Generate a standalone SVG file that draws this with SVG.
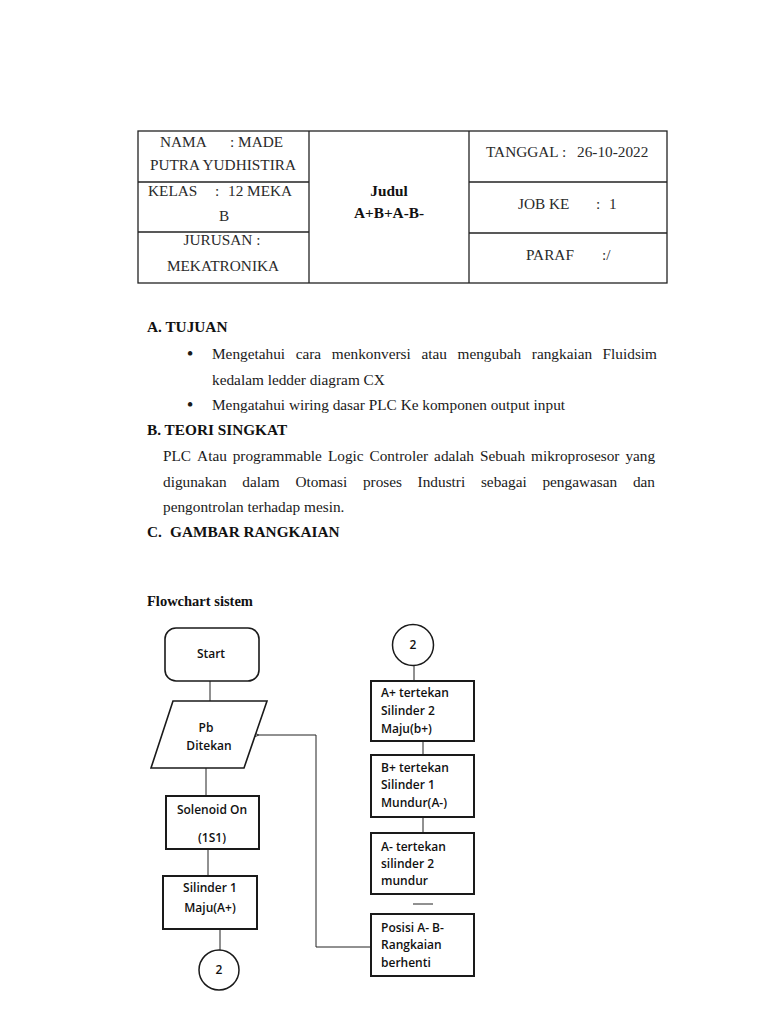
<svg xmlns="http://www.w3.org/2000/svg" width="768" height="1024" viewBox="0 0 768 1024">
<style>
.doc{font-family:"Liberation Serif","Times New Roman",serif;font-size:15.3px;fill:#1a1a1a}
.tbl{font-family:"Liberation Serif","Times New Roman",serif;font-size:15.3px;fill:#2a2a2a}
.b{font-weight:bold;fill:#111}
.bul{font-size:19px}
.fc{font-family:"Open Sans","Noto Sans",sans-serif;font-size:12px;font-weight:600;fill:#111}
.mid{text-anchor:middle}
.grid{fill:none;stroke:#222;stroke-width:1.3}
.box{fill:#fff;stroke:#1a1a1a;stroke-width:2}
.conn{fill:none;stroke:#222;stroke-width:1}
</style>
<defs>
<marker id="openArrow" markerWidth="12" markerHeight="10" refX="1" refY="5" orient="auto-start-reverse" markerUnits="userSpaceOnUse">
<path d="M11,1 L1,5 L11,9" fill="none" stroke="#333" stroke-width="1"/>
</marker>
</defs>
<rect width="768" height="1024" fill="#fff"/>

<!-- Header table -->
<g id="header-table">
<rect class="grid" x="138" y="131" width="529" height="152"/>
<line class="grid" x1="309" y1="131" x2="309" y2="283"/>
<line class="grid" x1="469" y1="131" x2="469" y2="283"/>
<line class="grid" x1="138" y1="182" x2="309" y2="182"/>
<line class="grid" x1="138" y1="232" x2="309" y2="232"/>
<line class="grid" x1="469" y1="182" x2="667" y2="182"/>
<line class="grid" x1="469" y1="233" x2="667" y2="233"/>
<text class="tbl"><tspan x="160" y="147">NAMA</tspan><tspan x="230" y="147">: MADE</tspan></text>
<text class="tbl mid" x="223" y="170">PUTRA YUDHISTIRA</text>
<text class="tbl"><tspan x="148" y="196">KELAS</tspan><tspan x="215" y="196">:</tspan><tspan x="228" y="196">12 MEKA</tspan></text>
<text class="tbl mid" x="224" y="221">B</text>
<text class="tbl mid" x="222" y="245">JURUSAN :</text>
<text class="tbl mid" x="223" y="271">MEKATRONIKA</text>
<text class="tbl b mid" x="389" y="196">Judul</text>
<text class="tbl b mid" x="389" y="218">A+B+A-B-</text>
<text class="tbl"><tspan x="486" y="157">TANGGAL</tspan><tspan x="562" y="157">:</tspan><tspan x="577" y="157">26-10-2022</tspan></text>
<text class="tbl"><tspan x="518" y="209">JOB KE</tspan><tspan x="596" y="209">:</tspan><tspan x="609" y="209">1</tspan></text>
<text class="tbl"><tspan x="526" y="260">PARAF</tspan><tspan x="602" y="260">:/</tspan></text>
</g>

<!-- Body text -->
<g id="body-text">
<text class="doc b" x="147" y="332">A. TUJUAN</text>
<text class="doc bul mid" x="190" y="360">•</text>
<text class="doc"><tspan x="212" y="359">Mengetahui</tspan><tspan x="295.7" y="359">cara</tspan><tspan x="331.8" y="359">menkonversi</tspan><tspan x="421.4" y="359">atau</tspan><tspan x="457.5" y="359">mengubah</tspan><tspan x="531.8" y="359">rangkaian</tspan><tspan x="602.6" y="359">Fluidsim</tspan></text>
<text class="doc" x="212" y="385">kedalam ledder diagram CX</text>
<text class="doc bul mid" x="190" y="411">•</text>
<text class="doc" x="212" y="410">Mengatahui wiring dasar PLC Ke komponen output input</text>
<text class="doc b" x="147" y="435">B. TEORI SINGKAT</text>
<text class="doc"><tspan x="163" y="461">PLC</tspan><tspan x="197.1" y="461">Atau</tspan><tspan x="232.7" y="461">programmable</tspan><tspan x="327.9" y="461">Logic</tspan><tspan x="369.5" y="461">Controler</tspan><tspan x="434.1" y="461">adalah</tspan><tspan x="480" y="461">Sebuah</tspan><tspan x="531" y="461">mikroprosesor</tspan><tspan x="625.4" y="461">yang</tspan></text>
<text class="doc"><tspan x="163" y="487">digunakan</tspan><tspan x="242.3" y="487">dalam</tspan><tspan x="295.4" y="487">Otomasi</tspan><tspan x="362.9" y="487">proses</tspan><tspan x="417.6" y="487">Industri</tspan><tspan x="480.9" y="487">sebagai</tspan><tspan x="542.4" y="487">pengawasan</tspan><tspan x="632.9" y="487">dan</tspan></text>
<text class="doc" x="163" y="512">pengontrolan terhadap mesin.</text>
<text class="doc b"><tspan x="147" y="537">C.</tspan><tspan x="170" y="537">GAMBAR RANGKAIAN</tspan></text>
<text class="doc b" x="147" y="606" style="font-size:14.5px">Flowchart sistem</text>
</g>

<!-- Connectors -->
<g id="connectors">
<line class="conn" x1="210" y1="681" x2="210" y2="701"/>
<line class="conn" x1="206" y1="768" x2="206" y2="796"/>
<line class="conn" x1="208" y1="849" x2="208" y2="876"/>
<line class="conn" x1="220" y1="929" x2="220" y2="950"/>
<line class="conn" x1="414" y1="665" x2="414" y2="681"/>
<line class="conn" x1="423" y1="741" x2="423" y2="755"/>
<line class="conn" x1="423" y1="817" x2="423" y2="833"/>
<line class="conn" x1="413" y1="904" x2="433" y2="904"/>
<path class="conn" d="M371,947 H316 V735 H259" marker-end="url(#openArrow)"/>
</g>

<!-- Nodes -->
<g id="start">
<rect x="165" y="628" width="94" height="53" rx="11" fill="#fff" stroke="#1a1a1a" stroke-width="1.6"/>
<text class="fc mid" x="211" y="658">Start</text>
</g>
<g id="pb-ditekan">
<polygon points="173,701 267,701 244,768 151,768" fill="#fff" stroke="#1a1a1a" stroke-width="1.6"/>
<text class="fc mid" x="206" y="732">Pb</text>
<text class="fc mid" x="209" y="750">Ditekan</text>
</g>
<g id="solenoid-on">
<rect class="box" x="166" y="796" width="93" height="53"/>
<text class="fc mid" x="212" y="814">Solenoid On</text>
<text class="fc mid" x="212" y="842">(1S1)</text>
</g>
<g id="silinder1-maju">
<rect class="box" x="163" y="876" width="94" height="53"/>
<text class="fc mid" x="210" y="892">Silinder 1</text>
<text class="fc mid" x="210" y="912">Maju(A+)</text>
</g>
<g id="connector-2-left">
<circle cx="219" cy="970" r="20" fill="#fff" stroke="#1a1a1a" stroke-width="1.5"/>
<text class="fc mid" x="219" y="974">2</text>
</g>
<g id="connector-2-right">
<circle cx="413" cy="645" r="20.5" fill="#fff" stroke="#1a1a1a" stroke-width="1.5"/>
<text class="fc mid" x="413" y="649">2</text>
</g>
<g id="a-plus-tertekan">
<rect class="box" x="371" y="681" width="103" height="60"/>
<text class="fc"><tspan x="381" y="697">A+ tertekan</tspan><tspan x="381" y="715">Silinder 2</tspan><tspan x="381" y="733">Maju(b+)</tspan></text>
</g>
<g id="b-plus-tertekan">
<rect class="box" x="371" y="755" width="103" height="62"/>
<text class="fc"><tspan x="381" y="772">B+ tertekan</tspan><tspan x="381" y="789">Silinder 1</tspan><tspan x="381" y="807">Mundur(A-)</tspan></text>
</g>
<g id="a-minus-tertekan">
<rect class="box" x="371" y="833" width="103" height="61"/>
<text class="fc"><tspan x="381" y="851">A- tertekan</tspan><tspan x="381" y="868">silinder 2</tspan><tspan x="381" y="885">mundur</tspan></text>
</g>
<g id="posisi-a-b">
<rect class="box" x="371" y="914" width="103" height="62"/>
<text class="fc"><tspan x="381" y="932">Posisi A- B-</tspan><tspan x="381" y="949">Rangkaian</tspan><tspan x="381" y="967">berhenti</tspan></text>
</g>
</svg>
